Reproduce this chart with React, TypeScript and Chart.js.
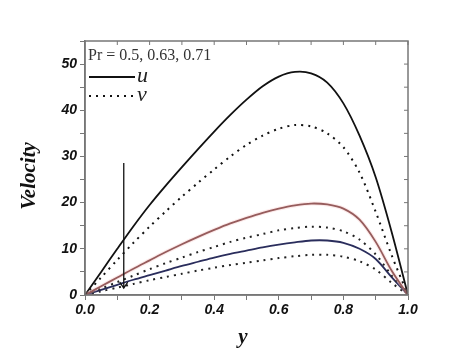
import React, { useEffect, useRef } from "react";
import { Chart, registerables } from "chart.js";

Chart.register(...registerables);

const yPos = [0, 0.05, 0.1, 0.15, 0.2, 0.25, 0.3, 0.35, 0.4, 0.45, 0.5, 0.55, 0.6, 0.65, 0.7, 0.75, 0.8, 0.85, 0.9, 0.95, 1.0];

const uPr05 = [0, 5.0, 10.0, 14.9, 19.5, 23.7, 27.7, 31.6, 35.4, 39.0, 42.3, 45.2, 47.3, 48.3, 48.0, 46.0, 41.5, 34.5, 25.5, 13.5, 0];
const vPr05 = [0, 3.8, 7.6, 11.3, 14.8, 18.1, 21.3, 24.3, 27.2, 30.0, 32.5, 34.5, 36.0, 36.8, 36.5, 35.0, 32.0, 26.5, 18.0, 8.5, 0];
const uPr063 = [0, 1.9, 3.8, 5.7, 7.5, 9.3, 11.0, 12.6, 14.1, 15.5, 16.7, 17.8, 18.7, 19.4, 19.8, 19.6, 18.7, 16.3, 11.5, 5.2, 0];
const vPr063 = [0, 1.4, 2.8, 4.2, 5.6, 6.9, 8.1, 9.3, 10.4, 11.5, 12.4, 13.2, 14.0, 14.5, 14.8, 14.6, 13.8, 12.0, 8.8, 4.2, 0];
const uPr071 = [0, 1.1, 2.2, 3.3, 4.3, 5.3, 6.3, 7.2, 8.1, 8.9, 9.6, 10.3, 10.9, 11.4, 11.8, 11.8, 11.3, 10.0, 7.8, 3.8, 0];
const vPr071 = [0, 0.8, 1.6, 2.4, 3.2, 3.9, 4.6, 5.3, 5.9, 6.5, 7.0, 7.5, 8.0, 8.4, 8.7, 8.7, 8.3, 7.3, 5.5, 2.6, 0];

const arrowX = [0.12, 0.12];
const arrowY = [28.6, 1.5];

const legendTitle = "Pr = 0.5, 0.63, 0.71";
const xTitle = "y";
const yTitle = "Velocity";

const pts = (vals: number[]) => vals.map((v, i) => ({ x: yPos[i], y: v }));

const decorPlugin = {
  id: "decor",
  afterDraw(chart: any) {
    const ctx = chart.ctx;
    const xs = chart.scales.x;
    const ys = chart.scales.y;
    const { left, right, top, bottom } = chart.chartArea;
    ctx.save();
    ctx.strokeStyle = "#777";
    ctx.lineWidth = 1.5;
    ctx.strokeRect(left, top, right - left, bottom - top);
    ctx.lineWidth = 1;
    for (let v = 0.1; v < 1.0; v += 0.1) {
      const px = xs.getPixelForValue(v);
      ctx.beginPath();
      ctx.moveTo(px, top);
      ctx.lineTo(px, top + 4);
      ctx.stroke();
    }
    for (let v = 5; v < 55; v += 5) {
      const py = ys.getPixelForValue(v);
      ctx.beginPath();
      ctx.moveTo(right, py);
      ctx.lineTo(right - 4, py);
      ctx.stroke();
    }
    const ax = xs.getPixelForValue(arrowX[0]);
    const ay0 = ys.getPixelForValue(arrowY[0]);
    const ay1 = ys.getPixelForValue(arrowY[1]);
    ctx.strokeStyle = "#111";
    ctx.lineWidth = 1.3;
    ctx.beginPath();
    ctx.moveTo(ax, ay0);
    ctx.lineTo(ax, ay1);
    ctx.moveTo(ax - 4, ay1 - 6);
    ctx.lineTo(ax, ay1);
    ctx.lineTo(ax + 4, ay1 - 6);
    ctx.stroke();
    ctx.fillStyle = "#333";
    ctx.font = '16px "Liberation Serif"';
    ctx.textBaseline = "middle";
    ctx.textAlign = "left";
    ctx.fillText(legendTitle, left + 3, top + 15);
    ctx.strokeStyle = "#111";
    ctx.lineWidth = 2;
    ctx.beginPath();
    ctx.moveTo(left + 4, top + 36);
    ctx.lineTo(left + 50, top + 36);
    ctx.stroke();
    ctx.setLineDash([2, 5]);
    ctx.beginPath();
    ctx.moveTo(left + 4, top + 55);
    ctx.lineTo(left + 50, top + 55);
    ctx.stroke();
    ctx.setLineDash([]);
    ctx.fillStyle = "#222";
    ctx.font = 'italic 22px "Liberation Serif"';
    ctx.textBaseline = "alphabetic";
    ctx.fillText("u", left + 52, top + 41);
    ctx.fillText("v", left + 52, top + 60);
    ctx.fillStyle = "#111";
    ctx.font = 'bold italic 21px "Liberation Serif"';
    ctx.textAlign = "center";
    ctx.textBaseline = "middle";
    ctx.fillText(xTitle, 243, 338);
    ctx.translate(30, 176);
    ctx.rotate(-Math.PI / 2);
    ctx.fillText(yTitle, 0, 0);
    ctx.restore();
  },
};

export default function App() {
  const ref = useRef<HTMLCanvasElement | null>(null);
  useEffect(() => {
    if (!ref.current) return;
    const tickFont = { family: '"Liberation Sans", Arial, sans-serif', size: 14, weight: "bold" as const, style: "italic" as const };
    const dotted = [2, 5];
    const common = { pointRadius: 0, tension: 0.3 };
    const chart = new Chart(ref.current, {
      type: "line",
      data: {
        datasets: [
          { data: pts(uPr063), borderColor: "rgba(245,185,185,0.3)", borderWidth: 4, ...common },
          { data: pts(uPr05), borderColor: "#111111", borderWidth: 1.8, ...common },
          { data: pts(vPr05), borderColor: "#111111", borderWidth: 2, borderDash: dotted, ...common },
          { data: pts(uPr063), borderColor: "#6e3434", borderWidth: 1.8, ...common },
          { data: pts(vPr063), borderColor: "#222222", borderWidth: 2, borderDash: dotted, ...common },
          { data: pts(uPr071), borderColor: "#2a2d5c", borderWidth: 1.8, ...common },
          { data: pts(vPr071), borderColor: "#222222", borderWidth: 2, borderDash: dotted, ...common },
        ],
      },
      options: {
        animation: false,
        responsive: false,
        maintainAspectRatio: false,
        layout: { padding: { top: 41, right: 66, left: 0, bottom: 0 } },
        plugins: { legend: { display: false }, tooltip: { enabled: false } },
        scales: {
          x: {
            type: "linear",
            min: 0,
            max: 1.0,
            afterFit: (s: any) => { s.height = 59; },
            border: { display: true, color: "#777", width: 1.5 },
            grid: { display: true, drawOnChartArea: false, drawTicks: true, tickLength: 5, color: "#777" },
            ticks: {
              stepSize: 0.1,
              autoSkip: false,
              maxRotation: 0,
              padding: 2,
              color: "#111",
              font: tickFont,
              callback: (v: any) => {
                const n = Math.round(Number(v) * 10);
                return n % 2 === 0 ? (n / 10).toFixed(1) : "";
              },
            },
          },
          y: {
            type: "linear",
            min: 0,
            max: 55,
            afterFit: (s: any) => { s.width = 85; },
            border: { display: true, color: "#777", width: 1.5 },
            grid: { display: true, drawOnChartArea: false, drawTicks: true, tickLength: 5, color: "#777" },
            ticks: {
              stepSize: 5,
              autoSkip: false,
              padding: 3,
              color: "#111",
              font: tickFont,
              callback: (v: any) => (Number(v) % 10 === 0 ? String(v) : ""),
            },
          },
        },
      },
      plugins: [decorPlugin],
    });
    return () => chart.destroy();
  }, []);
  return (
    <div style={{ position: "fixed", left: 0, top: 0, width: 474, height: 354, background: "#fff" }}>
      <canvas ref={ref} width={474} height={354} style={{ width: 474, height: 354 }} />
    </div>
  );
}
